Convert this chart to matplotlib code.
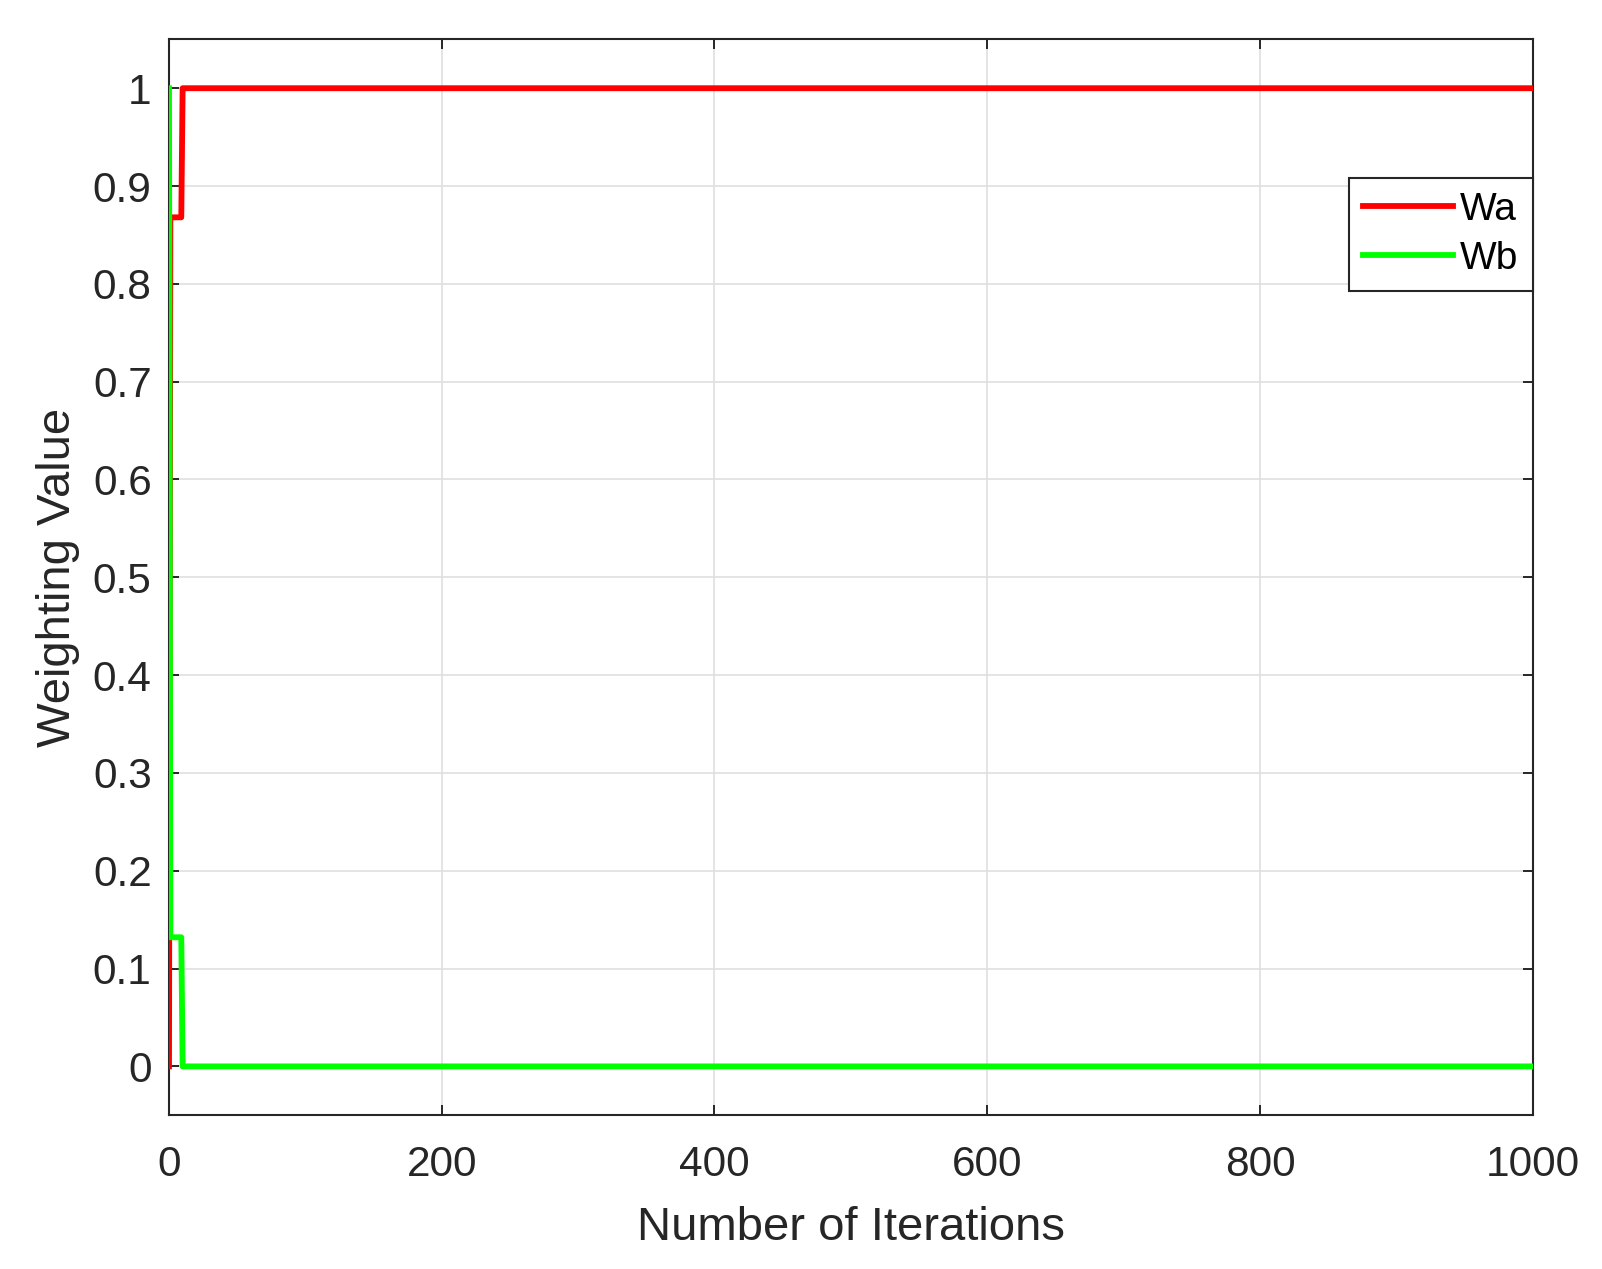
import matplotlib
matplotlib.use("Agg")
import matplotlib.pyplot as plt

iter_a = [0, 1, 9, 10, 1000]
wa = [0.0, 0.868, 0.868, 1.0, 1.0]
iter_b = [0, 1, 9, 10, 1000]
wb = [1.0, 0.132, 0.132, 0.0, 0.0]

xticks = [0, 200, 400, 600, 800, 1000]
yticks = [0, 0.1, 0.2, 0.3, 0.4, 0.5, 0.6, 0.7, 0.8, 0.9, 1]
ytick_labels = ["0", "0.1", "0.2", "0.3", "0.4", "0.5", "0.6", "0.7", "0.8", "0.9", "1"]

plt.rcParams['font.family'] = ['Liberation Sans', 'DejaVu Sans']

W, H = 1602, 1269
fig = plt.figure(figsize=(W / 100, H / 100), dpi=100)
left, right, top, bottom = 169, 1532.7, 39.3, 1115.3
ax = fig.add_axes([left / W, 1 - bottom / H, (right - left) / W, (bottom - top) / H])

ax.plot(iter_a, wa, color='#ff0000', lw=4.2, label='Wa', zorder=3)
ax.plot(iter_b, wb, color='#00ff00', lw=4.2, label='Wb', zorder=3)

ax.set_xlim(0, 1000)
ax.set_ylim(-0.05, 1.05)
ax.set_xticks(xticks)
ax.set_yticks(yticks)
ax.set_yticklabels(ytick_labels)
ax.grid(True, color='#dfdfdf', lw=1.2)
ax.set_axisbelow(True)
ax.tick_params(direction='in', length=7.2, width=1.4, top=True, right=True,
               labelsize=30.5, colors='#262626')
ax.tick_params(axis='x', pad=21.5)
ax.tick_params(axis='y', pad=12.5)
for s in ax.spines.values():
    s.set_linewidth(1.5)
    s.set_color('#262626')

ax.set_xlabel('Number of Iterations', fontsize=34, color='#262626', labelpad=15)
ax.set_ylabel('Weighting Value', fontsize=34, color='#262626', labelpad=9)

leg = ax.legend(loc='upper right', bbox_to_anchor=(1.0, 0.871), fontsize=28,
                frameon=True, fancybox=False, edgecolor='#262626', framealpha=1,
                handlelength=2.3, handletextpad=0.2, borderpad=0.36,
                labelspacing=0.33, borderaxespad=0)
leg.get_frame().set_linewidth(1.5)

fig.savefig('out.png', dpi=100, facecolor='white')
